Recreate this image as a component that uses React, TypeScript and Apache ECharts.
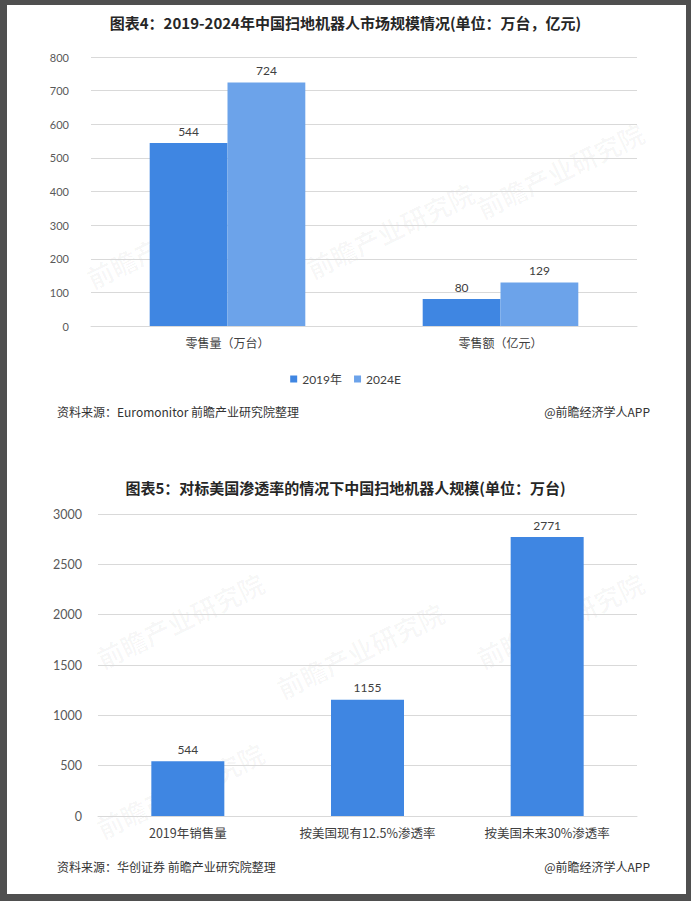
import React, { useEffect, useRef } from "react";
import * as echarts from "echarts";

const categories1 = ["零售量（万台）", "零售额（亿元）"];
const series2019 = [544, 80];
const series2024E = [724, 129];
const yTicks1 = { min: 0, max: 800, interval: 100 };

const categories2 = ["2019年销售量", "按美国现有12.5%渗透率", "按美国未来30%渗透率"];
const values2 = [544, 1155, 2771];
const yTicks2 = { min: 0, max: 3000, interval: 500 };

const title1 = "图表4：2019-2024年中国扫地机器人市场规模情况(单位：万台，亿元)";
const title2 = "图表5：对标美国渗透率的情况下中国扫地机器人规模(单位：万台)";
const source1 = "资料来源：Euromonitor 前瞻产业研究院整理";
const source2 = "资料来源：华创证券 前瞻产业研究院整理";
const credit = "@前瞻经济学人APP";

const FONT = "'Noto Sans CJK SC', 'Noto Sans', sans-serif";
const NUMFONT = "Lato, 'Noto Sans CJK SC', sans-serif";
const C1 = "#3F86E2";
const C2 = "#6CA3EA";

export default function App() {
  const ref = useRef<HTMLDivElement>(null);
  useEffect(() => {
    if (!ref.current) return;
    const chart = echarts.init(ref.current, undefined, { renderer: "svg" });
    const wm = (x: number, y: number, size: number) => ({
      type: "text",
      x,
      y,
      rotation: Math.PI / 7,
      z: 0,
      silent: true,
      style: {
        text: "前瞻产业研究院",
        fill: "rgba(0,0,0,0.03)",
        font: `bold ${size}px ${FONT}`,
        align: "center",
        verticalAlign: "middle",
      },
    });
    chart.setOption({
      animation: false,
      backgroundColor: "#ffffff",
      textStyle: { fontFamily: FONT },
      title: [
        {
          text: title1,
          left: "center",
          top: 10,
          textStyle: { fontSize: 15, fontWeight: "bold", color: "#262626", fontFamily: FONT },
        },
        {
          text: title2,
          left: "center",
          top: 475,
          textStyle: { fontSize: 15, fontWeight: "bold", color: "#262626", fontFamily: FONT },
        },
      ],
      legend: {
        data: ["2019年", "2024E"],
        top: 368,
        left: "center",
        itemWidth: 7,
        itemHeight: 7,
        itemGap: 12,
        icon: "rect",
        textStyle: { fontSize: 12, color: "#404040", fontFamily: NUMFONT },
      },
      grid: [
        { left: 91, right: 54, top: 57, bottom: 901 - 326, containLabel: false },
        { left: 98, right: 54, top: 514, bottom: 901 - 816, containLabel: false },
      ],
      xAxis: [
        {
          type: "category",
          gridIndex: 0,
          data: categories1,
          axisTick: { show: false },
          axisLine: { lineStyle: { color: "#d9d9d9" } },
          axisLabel: { fontSize: 12, color: "#404040", margin: 10, fontFamily: FONT },
        },
        {
          type: "category",
          gridIndex: 1,
          data: categories2,
          axisTick: { show: false },
          axisLine: { lineStyle: { color: "#d9d9d9" } },
          axisLabel: { fontSize: 12.5, color: "#404040", margin: 10, fontFamily: FONT },
        },
      ],
      yAxis: [
        {
          type: "value",
          gridIndex: 0,
          ...yTicks1,
          axisLine: { show: false },
          axisTick: { show: false },
          splitLine: { lineStyle: { color: "#d9d9d9" } },
          axisLabel: {
            fontSize: 11,
            color: "#595959",
            margin: 22,
            fontFamily: NUMFONT,
            formatter: (v: number) => String(v),
          },
        },
        {
          type: "value",
          gridIndex: 1,
          ...yTicks2,
          axisLine: { show: false },
          axisTick: { show: false },
          splitLine: { lineStyle: { color: "#d9d9d9" } },
          axisLabel: {
            fontSize: 12.5,
            color: "#595959",
            margin: 16,
            fontFamily: NUMFONT,
            formatter: (v: number) => String(v),
          },
        },
      ],
      series: [
        {
          name: "2019年",
          type: "bar",
          xAxisIndex: 0,
          yAxisIndex: 0,
          data: series2019,
          barGap: "0%",
          barCategoryGap: "43%",
          itemStyle: { color: C1 },
          label: { show: true, position: "top", distance: 6, fontSize: 12, color: "#404040", fontFamily: NUMFONT },
        },
        {
          name: "2024E",
          type: "bar",
          xAxisIndex: 0,
          yAxisIndex: 0,
          data: series2024E,
          barGap: "0%",
          barCategoryGap: "43%",
          itemStyle: { color: C2 },
          label: { show: true, position: "top", distance: 6, fontSize: 12, color: "#404040", fontFamily: NUMFONT },
        },
        {
          name: "规模",
          type: "bar",
          xAxisIndex: 1,
          yAxisIndex: 1,
          data: values2,
          barWidth: 73,
          itemStyle: { color: C1 },
          label: { show: true, position: "top", distance: 6, fontSize: 12, color: "#404040", fontFamily: NUMFONT },
        },
      ],
      graphic: [
        wm(170, 240, 26),
        wm(390, 230, 26),
        wm(560, 170, 26),
        wm(180, 620, 26),
        wm(360, 650, 26),
        wm(560, 620, 26),
        wm(180, 790, 26),
        {
          type: "text",
          left: 57,
          top: 405,
          style: { text: source1, fill: "#333333", font: `12px ${FONT}` },
        },
        {
          type: "text",
          right: 41,
          top: 405,
          style: { text: credit, fill: "#333333", font: `12px ${FONT}` },
        },
        {
          type: "text",
          left: 57,
          top: 860,
          style: { text: source2, fill: "#333333", font: `12px ${FONT}` },
        },
        {
          type: "text",
          right: 41,
          top: 860,
          style: { text: credit, fill: "#333333", font: `12px ${FONT}` },
        },
        { type: "rect", left: 0, top: 0, shape: { width: 7, height: 901 }, style: { fill: "#4f4f4f" }, z: 100 },
        { type: "rect", left: 0, top: 0, shape: { width: 691, height: 5 }, style: { fill: "#4f4f4f" }, z: 100 },
        { type: "rect", right: 0, top: 0, shape: { width: 5, height: 901 }, style: { fill: "#4f4f4f" }, z: 100 },
        { type: "rect", left: 0, bottom: 0, shape: { width: 691, height: 7 }, style: { fill: "#4f4f4f" }, z: 100 },
      ],
    });
    return () => chart.dispose();
  }, []);
  return (
    <div
      ref={ref}
      style={{ position: "fixed", left: 0, top: 0, width: 691, height: 901, background: "#fff" }}
    />
  );
}
